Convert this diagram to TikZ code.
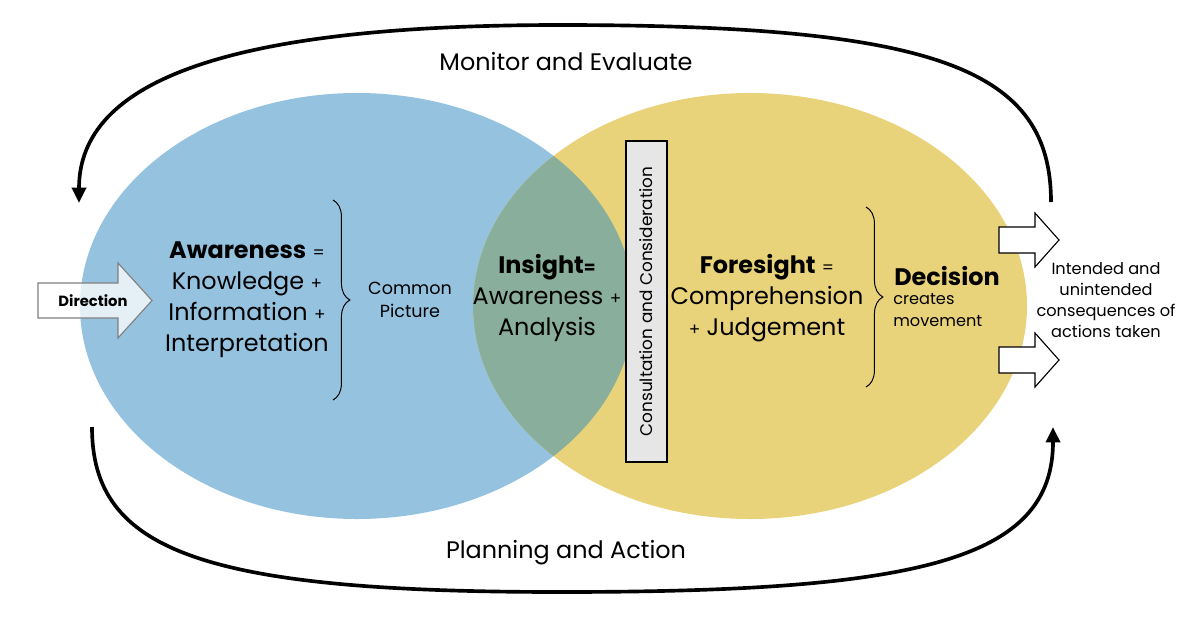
\documentclass[tikz,border=0pt]{standalone}
\usepackage{fontspec}
\setmainfont{Poppins}
\usepackage{xcolor}
\usepackage{tikz}
\usetikzlibrary{positioning,decorations.pathreplacing,arrows.meta}

\definecolor{awareblue}{HTML}{95C3DF}
\definecolor{foreyellow}{HTML}{E9D37A}
\definecolor{insightgreen}{HTML}{89AE9C}
\definecolor{consultgrey}{HTML}{E6E6E6}

\newcommand{\tinyop}[1]{{\fontsize{12}{14}\selectfont #1}}

\begin{document}
\begin{tikzpicture}[
    x=0.025cm, y=-0.025cm,
    bigtext/.style={align=center, font=\fontsize{17}{22}\selectfont},
    smalltext/.style={align=center, font=\fontsize{12.5}{16}\selectfont},
    looptext/.style={font=\fontsize{17}{20}\selectfont},
    loop arrow/.style={line width=2.6pt, -{Triangle[length=11pt, width=10pt]}},
    block/.style={draw, line width=0.8pt, fill=white},
    curly/.style={decorate, decoration={brace, amplitude=12pt}, line width=0.7pt}
]
\useasboundingbox (0,0) rectangle (1200,618);

% the two fields
\fill[awareblue] (357,306) ellipse [x radius=277, y radius=213];
\fill[foreyellow] (750,306) ellipse [x radius=277, y radius=213];
\begin{scope}
  \clip (357,306) ellipse [x radius=277, y radius=213];
  \fill[insightgreen] (750,306) ellipse [x radius=277, y radius=213];
\end{scope}

% consultation bar
\node[draw, fill=consultgrey, line width=0.8pt, minimum width=321*0.025cm,
      minimum height=41*0.025cm, rotate=90, font=\fontsize{12}{14}\selectfont]
      (consult) at (646.5,301.5) {Consultation and Consideration};

% text blocks
\node[bigtext] (aware) at (247,300)
  {\textbf{Awareness} \tinyop{=}\\Knowledge \tinyop{+}\\Information \tinyop{+}\\Interpretation};
\node[smalltext] (picture) at (410,300) {Common\\Picture};
\node[bigtext] (insight) at (547,298)
  {\textbf{Insight}\tinyop{\textbf{=}}\\Awareness \tinyop{+}\\Analysis};
\node[bigtext] (foresight) at (767,298)
  {\textbf{Foresight} \tinyop{=}\\Comprehension\\\tinyop{+} Judgement};
\node[font=\bfseries\fontsize{17}{20}\selectfont] (decision) at (947,276) {Decision};
\node[align=left, font=\fontsize{11.5}{16}\selectfont, anchor=north west, inner sep=0pt]
  (movement) at (893,293) {creates\\movement};
\node[align=center, font=\fontsize{11.5}{15}\selectfont] (result) at (1106,300)
  {Intended and\\unintended\\consequences of\\actions taken};

\node[looptext] (monitor) at (566,62) {Monitor and Evaluate};
\node[looptext] (planning) at (566,553) {Planning and Action};

% braces
\coordinate (b1top) at (333,200);
\coordinate (b1bot) at (333,400);
\coordinate (b2top) at (866,207);
\coordinate (b2bot) at (866,387);
\draw[curly] (b1top) -- (b1bot);
\draw[curly] (b2top) -- (b2bot);

% direction arrow
\draw[draw=gray, line width=0.8pt, fill=white, fill opacity=0.75]
  (38,283) -- (118,283) -- (118,263) -- (152,300.5) -- (118,338) -- (118,318) -- (38,318) -- cycle;
\node[font=\bfseries\fontsize{10.5}{12}\selectfont] (direction) at (93,300.5) {Direction};

% outcome arrows
\draw[block] (999,227) -- (1035,227) -- (1035,213) -- (1059,240) -- (1035,267) -- (1035,253) -- (999,253) -- cycle;
\draw[block] (999,347) -- (1035,347) -- (1035,333) -- (1059,360) -- (1035,387) -- (1035,373) -- (999,373) -- cycle;

% feedback loops
\coordinate (mstart) at (1051,202);
\coordinate (mtop) at (560,25);
\coordinate (mend) at (79,203);
\coordinate (pstart) at (92,427);
\coordinate (pbot) at (560,592);
\coordinate (pend) at (1053,427);
\draw[loop arrow] (mstart) .. controls (1051,70) and (940,25) .. (mtop)
  .. controls (230,25) and (79,80) .. (mend);
\draw[loop arrow] (pstart) .. controls (92,550) and (200,592) .. (pbot)
  .. controls (920,592) and (1053,560) .. (pend);
\end{tikzpicture}
\end{document}
